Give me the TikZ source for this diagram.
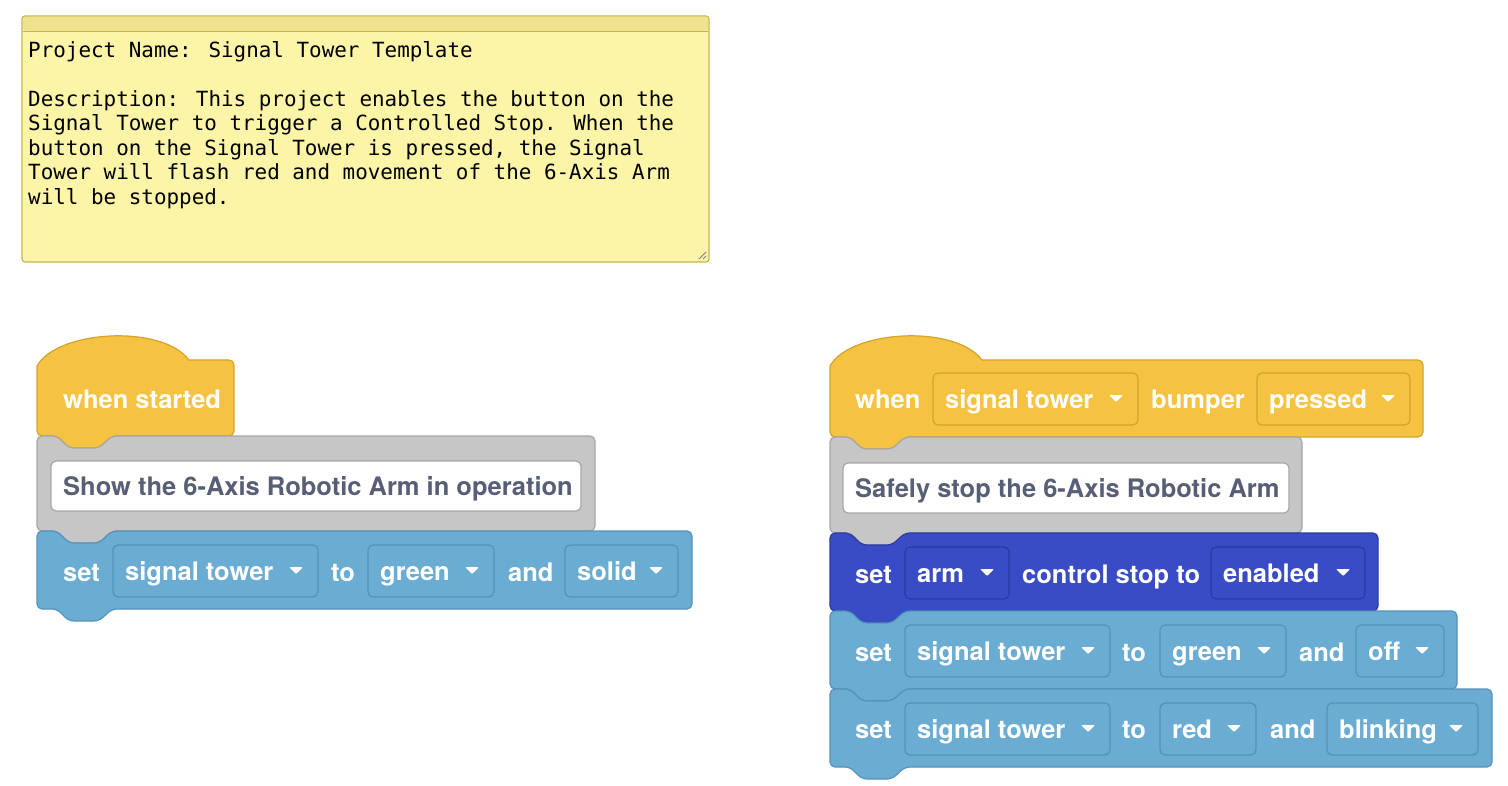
\documentclass[tikz,border=0pt]{standalone}
\usepackage{fontspec}
\setmainfont{TeX Gyre Heros}
\newfontfamily\monof{DejaVu Sans Mono}
\definecolor{yel}{HTML}{F5C242}\definecolor{yelD}{HTML}{D2A42C}
\definecolor{gry}{HTML}{C6C6C6}\definecolor{gryD}{HTML}{A6A6A6}
\definecolor{blu}{HTML}{6BADD2}\definecolor{bluD}{HTML}{5592BA}
\definecolor{dbl}{HTML}{3A4BC6}\definecolor{dblD}{HTML}{2B3AA4}
\definecolor{note}{HTML}{FCF4A6}\definecolor{noteT}{HTML}{EEE28E}\definecolor{noteD}{HTML}{C8B44E}
\definecolor{cmt}{HTML}{575E75}
\tikzset{lbl/.style={anchor=base west,inner sep=0pt,text=white,font=\fontsize{25.5}{28}\selectfont\bfseries},
 cmtxt/.style={anchor=base west,inner sep=0pt,text=cmt,font=\fontsize{25.5}{28}\selectfont\bfseries}}
\newcommand\blk[6]{\draw[fill=#5,draw=#6,line width=1.2pt,rounded corners=5pt]
 (#1,#2) -- (#1+20,#2) -- (#1+32,#2+12) -- (#1+62,#2+12) -- (#1+75,#2) -- (#1+#3,#2) -- (#1+#3,#2+#4)
 -- (#1+75,#2+#4) -- (#1+62,#2+#4+12) -- (#1+32,#2+#4+12) -- (#1+20,#2+#4) -- (#1,#2+#4) -- cycle;}
\newcommand\hatblk[6]{\draw[fill=#5,draw=#6,line width=1.2pt]
 (#1,#2+6) .. controls (#1+20,#2-30) and (#1+125,#2-36) .. (#1+152,#2)
 [rounded corners=5pt] -- (#1+#3,#2) -- (#1+#3,#2+#4)
 -- (#1+75,#2+#4) -- (#1+62,#2+#4+12) -- (#1+32,#2+#4+12) -- (#1+20,#2+#4) -- (#1,#2+#4) -- (#1,#2+6);}
\newcommand\txt[3]{\node[lbl] at (#1,#2+9) {#3};}
\newcommand\fld[7]{\draw[fill=#6,draw=#7,line width=1.2pt,rounded corners=5pt] (#1,#2) rectangle (#3,#4);
 \node[lbl] at (#1+12,{(#2+#4)/2+9}) {#5};
 \fill[white,rounded corners=1pt] (#3-29,{(#2+#4)/2-4}) -- (#3-15,{(#2+#4)/2-4}) -- (#3-22,{(#2+#4)/2+3}) -- cycle;}
\newcommand\cfld[5]{\draw[fill=white,draw=gryD,line width=1.2pt,rounded corners=5pt] (#1,#2) rectangle (#3,#4);
 \node[cmtxt] at (#1+12,{(#2+#4)/2+9}) {#5};}
\begin{document}
\begin{tikzpicture}[x=1pt,y=-1pt]
\useasboundingbox (0,0) rectangle (1508,786);
\draw[fill=note,draw=noteD,line width=1.2pt,rounded corners=3pt] (22,16) rectangle (709,262);
\fill[noteT,rounded corners=3pt] (23,17) rectangle (708,31);
\draw[noteD,line width=0.8pt] (23,31) -- (708,31);
\draw[gray,line width=1pt] (699,259) -- (706,252) (703,259) -- (706,256);
\node[anchor=north west,inner sep=0pt,align=left,font=\monof\fontsize{20.9}{24.5}\selectfont] (nt) at (28,41)
{Project Name: Signal Tower Template\\[24.5pt]
Description: This project enables the button on the\\
Signal Tower to trigger a Controlled Stop. When the\\
button on the Signal Tower is pressed, the Signal\\
Tower will flash red and movement of the 6-Axis Arm\\
will be stopped.};
% left stack
\hatblk{37}{360}{197}{76}{yel}{yelD}
\txt{63}{399}{when started}
\blk{37}{436}{558}{95}{gry}{gryD}
\cfld{51}{461}{581}{511}{Show the 6-Axis Robotic Arm in operation}
\blk{37}{531}{655}{78}{blu}{bluD}
\txt{63}{572}{set}
\fld{113}{545}{318}{597}{signal tower}{blu}{bluD}
\txt{331}{572}{to}
\fld{368}{545}{494}{597}{green}{blu}{bluD}
\txt{508}{572}{and}
\fld{565}{545}{678}{597}{solid}{blu}{bluD}
% right stack
\hatblk{830}{360}{593}{77}{yel}{yelD}
\txt{855}{400}{when}
\fld{933}{373}{1138}{425}{signal tower}{yel}{yelD}
\txt{1151}{400}{bumper}
\fld{1257}{373}{1410}{425}{pressed}{yel}{yelD}
\blk{830}{437}{472}{96}{gry}{gryD}
\cfld{843}{463}{1289}{513}{Safely stop the 6-Axis Robotic Arm}
\blk{830}{533}{548}{78}{dbl}{dblD}
\txt{855}{574}{set}
\fld{905}{547}{1009}{599}{arm}{dbl}{dblD}
\txt{1022}{574}{control stop to}
\fld{1211}{547}{1365}{599}{enabled}{dbl}{dblD}
\blk{830}{611}{627}{78}{blu}{bluD}
\txt{855}{652}{set}
\fld{905}{625}{1110}{677}{signal tower}{blu}{bluD}
\txt{1122}{652}{to}
\fld{1160}{625}{1286}{677}{green}{blu}{bluD}
\txt{1299}{652}{and}
\fld{1356}{625}{1444}{677}{off}{blu}{bluD}
\blk{830}{689}{662}{78}{blu}{bluD}
\txt{855}{729}{set}
\fld{905}{703}{1110}{755}{signal tower}{blu}{bluD}
\txt{1122}{729}{to}
\fld{1160}{703}{1256}{755}{red}{blu}{bluD}
\txt{1270}{729}{and}
\fld{1327}{703}{1478}{755}{blinking}{blu}{bluD}
\end{tikzpicture}
\end{document}
